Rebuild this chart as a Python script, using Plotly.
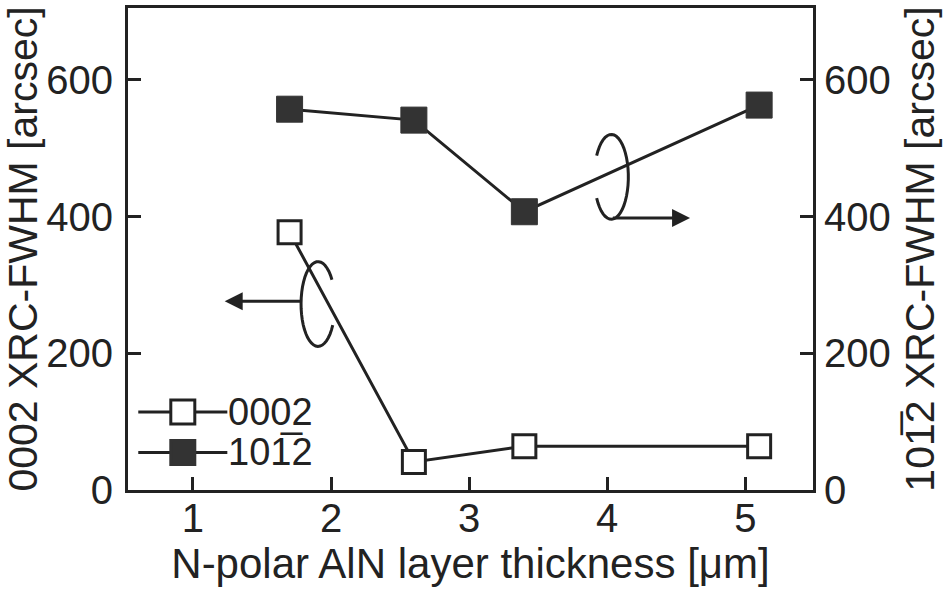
import numpy as np
import plotly.graph_objects as go

# thickness of the N-polar AlN layer [um]
thickness = [1.7, 2.6, 3.4, 5.1]
# XRC-FWHM [arcsec]
fwhm_0002 = [377, 41, 64, 64]
fwhm_1012 = [557, 541, 407, 563]

x_ticks = [1, 2, 3, 4, 5]
y_ticks = [0, 200, 400, 600]

label_0002 = "0002"
label_1012 = "10" + "1\u0305" + "2"

FONT = "Liberation Sans, Arial, sans-serif"
INK = "#222222"
FILL = "#333333"

fig = go.Figure()

fig.add_trace(go.Scatter(
    x=thickness, y=fwhm_0002, name=label_0002, mode="lines+markers",
    line=dict(color=INK, width=3),
    marker=dict(symbol="square", size=23, color="white",
                line=dict(color=INK, width=3)),
))
fig.add_trace(go.Scatter(
    x=thickness, y=fwhm_1012, name=label_1012, mode="lines+markers",
    yaxis="y2",
    line=dict(color=INK, width=3),
    marker=dict(symbol="square", size=26, color=FILL,
                line=dict(color=FILL, width=1)),
))


# open ellipses marking which axis belongs to which curve
def ellipse_path(cx, cy, a, b, t0, t1):
    t = np.radians(np.linspace(t0, t1, 40))
    xs = cx + a * np.cos(t)
    ys = cy + b * np.sin(t)
    return "M" + " L".join(f"{x:.4f},{y:.2f}" for x, y in zip(xs, ys))


fig.add_shape(type="path", xref="x", yref="y",
              path=ellipse_path(1.906, 272, 0.123, 62, 35, 330),
              line=dict(color=INK, width=3))
fig.add_shape(type="path", xref="x", yref="y",
              path=ellipse_path(4.03, 458, 0.123, 62, -150, 150),
              line=dict(color=INK, width=3))

arrow = dict(showarrow=True, arrowhead=2, arrowsize=1.2, arrowwidth=3,
             arrowcolor=INK, text="", axref="x", ayref="y", xref="x", yref="y")
fig.add_annotation(x=1.23, y=276, ax=1.79, ay=276, **arrow)
fig.add_annotation(x=4.60, y=398, ax=4.03, ay=398, **arrow)

# hand-drawn legend (long line through a full-size marker), lower left
legend_rows = [(label_0002, "white", 0.162), (label_1012, FILL, 0.078)]
for text, fill, ly in legend_rows:
    fig.add_shape(type="line", xref="paper", yref="paper",
                  x0=0.015, x1=0.145, y0=ly, y1=ly,
                  line=dict(color=INK, width=3))
    fig.add_shape(type="rect", xref="paper", yref="paper",
                  xsizemode="pixel", ysizemode="pixel",
                  xanchor=0.08, yanchor=ly, x0=-12, x1=12, y0=-12, y1=12,
                  fillcolor=fill, line=dict(color=INK if fill == "white" else FILL, width=3))
    fig.add_annotation(xref="paper", yref="paper", x=0.143, y=ly,
                       xanchor="left", yanchor="middle", showarrow=False,
                       text=text, font=dict(family=FONT, size=38, color=INK))

axis_common = dict(
    showline=True, linecolor=INK, linewidth=3,
    ticks="inside", ticklen=13, tickwidth=3, tickcolor=INK,
    showgrid=False, zeroline=False,
    tickfont=dict(family=FONT, size=40, color=INK),
)
title_font = dict(family=FONT, size=41, color=INK)

fig.update_layout(
    width=946, height=592,
    margin=dict(l=128, r=133, t=5, b=102),
    plot_bgcolor="white", paper_bgcolor="white",
    font=dict(family=FONT, color=INK),
    showlegend=False,
    xaxis=dict(range=[0.53, 5.49], tickvals=x_ticks, mirror=True,
               ticklabelstandoff=-9,
               title=dict(text="N-polar AlN layer thickness [\u03bcm]",
                          font=dict(family=FONT, size=42, color=INK), standoff=10),
               **axis_common),
    yaxis=dict(range=[0, 705], tickvals=y_ticks, ticklabelstandoff=4,
               title=dict(text="0002 XRC-FWHM [arcsec]",
                          font=title_font, standoff=4),
               **axis_common),
    yaxis2=dict(range=[0, 705], tickvals=y_ticks, overlaying="y", side="right",
                ticklabelstandoff=0,
                title=dict(text=label_1012 + " XRC-FWHM [arcsec]",
                           font=title_font, standoff=16),
                **axis_common),
)

fig.write_html("out.html", config={"displayModeBar": False},
               post_script="document.body.style.margin='0px';")
